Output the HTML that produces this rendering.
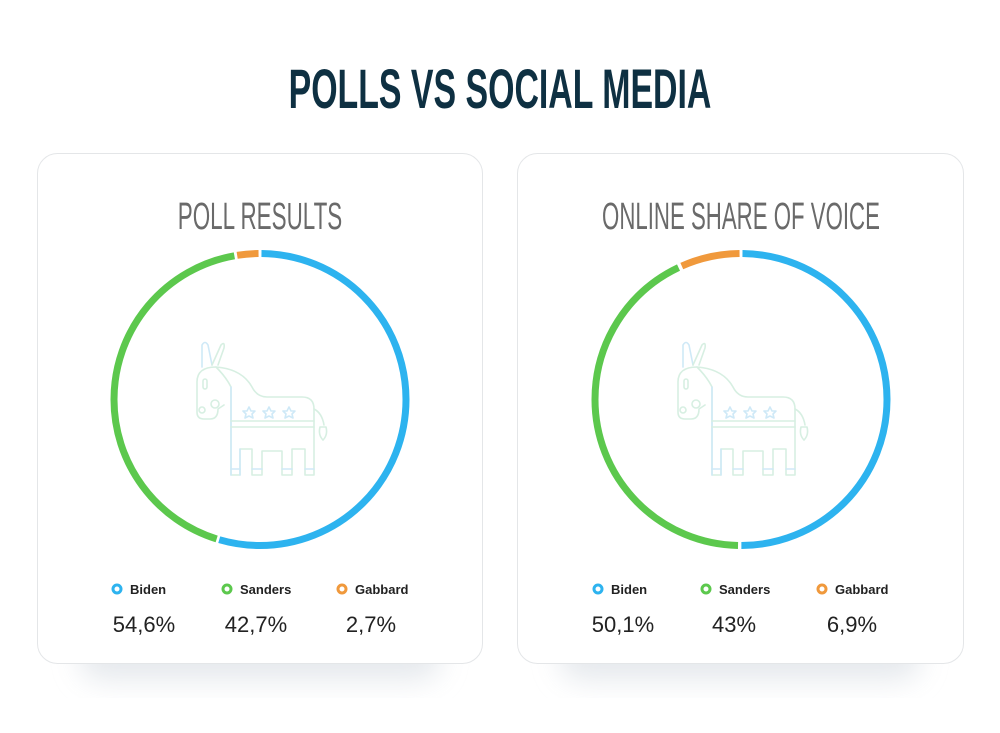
<!DOCTYPE html>
<html><head><style>
body{margin:0;background:#fff;}
svg text{font-family:"Liberation Sans",sans-serif;}
</style></head><body>
<svg width="1000" height="728" viewBox="0 0 1000 728" xmlns="http://www.w3.org/2000/svg">
<defs>
<filter id="sh" x="-20%" y="-20%" width="140%" height="150%"><feGaussianBlur stdDeviation="14"/></filter>
<g id="donkey" fill="none" stroke-width="1.6" stroke-linejoin="round" stroke-linecap="round">
  <path d="M-60,-30 L-60,-52 Q-57,-57 -54,-52 L-50,-32" stroke="#cfe9f7"/>
  <path d="M-50,-32 L-41,-52 Q-37,-56 -38,-49 L-44,-32" stroke="#d7efe2"/>
  <path d="M-46,-30 Q-20,-28 -10,-10 Q-5,0 5,0 L40,0 Q52,0 52,12 L52,78 L43,78 L43,52 L30,52 L30,78 L20,78 L20,54 L0,54 L0,78 L-10,78 L-10,52 L-22,52 L-22,78 L-31,78 L-31,-10 Q-36,-20 -46,-30 Z" stroke="#d7efe2"/>
  <path d="M-31,-10 L-31,78 M-22,78 L-22,52" stroke="#cfe9f7"/>
  <path d="M-46,-30 Q-65,-30 -65,-15 L-65,15 Q-65,22 -58,22 L-52,22 Q-44,22 -44,12 L-38,8" stroke="#d7efe2"/>
  <rect x="-59" y="-18" width="4" height="10" rx="2" stroke="#d7efe2"/>
  <circle cx="-47" cy="7" r="4" stroke="#d7efe2"/>
  <circle cx="-60" cy="13" r="3" stroke="#d7efe2"/>
  <path d="M-31,24 L52,24 M-31,30 L52,30" stroke="#d7efe2"/>
  <path d="M52,12 Q60,16 62,28 M58,30 Q56,38 61,43 Q66,38 64,30 Z" stroke="#d7efe2"/>
  <path d="M-13,10 l2,4 4,0 -3,3 1,4 -4,-2 -4,2 1,-4 -3,-3 4,0 Z M7,10 l2,4 4,0 -3,3 1,4 -4,-2 -4,2 1,-4 -3,-3 4,0 Z M27,10 l2,4 4,0 -3,3 1,4 -4,-2 -4,2 1,-4 -3,-3 4,0 Z" stroke="#cfe9f7"/>
  <path d="M-31,72 L-22,72 M-10,72 L0,72 M20,72 L30,72 M43,72 L52,72" stroke="#cfe9f7"/>
</g>
</defs>
<text x="500" y="108" text-anchor="middle" font-size="56" font-weight="bold" fill="#0e3042" transform="translate(500 0) scale(0.605 1) translate(-500 0)">POLLS VS SOCIAL MEDIA</text>

<rect x="80" y="620" width="360" height="60" rx="20" fill="#dfe3e8" filter="url(#sh)" opacity="0.8"/>
<rect x="560" y="620" width="360" height="60" rx="20" fill="#dfe3e8" filter="url(#sh)" opacity="0.8"/>
<rect x="37.5" y="153.5" width="445" height="510" rx="20" fill="#fff" stroke="#e4e6e8"/>
<rect x="517.5" y="153.5" width="446" height="510" rx="20" fill="#fff" stroke="#e4e6e8"/>

<text x="260" y="229" text-anchor="middle" font-size="38" fill="#6a6a6a" transform="translate(260 0) scale(0.59 1) translate(-260 0)">POLL RESULTS</text>
<g transform="translate(260 399.5) rotate(-90)" fill="none" stroke-width="7">
  <circle r="146" stroke="#2db3ef" stroke-dasharray="498.3 1000" stroke-dashoffset="-1.5"/>
  <circle r="146" stroke="#5cc84d" stroke-dasharray="388.7 1000" stroke-dashoffset="-502.5"/>
  <circle r="146" stroke="#f0993c" stroke-dasharray="21.5 1000" stroke-dashoffset="-894"/>
</g>
<use href="#donkey" transform="translate(262 397)"/>
<circle cx="117" cy="589" r="4" fill="none" stroke="#2db3ef" stroke-width="3"/>
<text x="130" y="594" font-size="13" font-weight="bold" fill="#222">Biden</text>
<circle cx="227" cy="589" r="4" fill="none" stroke="#5cc84d" stroke-width="3"/>
<text x="240" y="594" font-size="13" font-weight="bold" fill="#222">Sanders</text>
<circle cx="342" cy="589" r="4" fill="none" stroke="#f0993c" stroke-width="3"/>
<text x="355" y="594" font-size="13" font-weight="bold" fill="#222">Gabbard</text>
<text x="144" y="632" text-anchor="middle" font-size="22" fill="#222">54,6%</text>
<text x="256" y="632" text-anchor="middle" font-size="22" fill="#222">42,7%</text>
<text x="371" y="632" text-anchor="middle" font-size="22" fill="#222">2,7%</text>

<text x="741" y="229" text-anchor="middle" font-size="38" fill="#6a6a6a" transform="translate(741 0) scale(0.585 1) translate(-741 0)">ONLINE SHARE OF VOICE</text>
<g transform="translate(741 399.5) rotate(-90)" fill="none" stroke-width="7">
  <circle r="146" stroke="#2db3ef" stroke-dasharray="456.6 1000" stroke-dashoffset="-1.5"/>
  <circle r="146" stroke="#5cc84d" stroke-dasharray="390.9 1000" stroke-dashoffset="-461.5"/>
  <circle r="146" stroke="#f0993c" stroke-dasharray="59.5 1000" stroke-dashoffset="-856"/>
</g>
<use href="#donkey" transform="translate(743 397)"/>
<circle cx="598" cy="589" r="4" fill="none" stroke="#2db3ef" stroke-width="3"/>
<text x="611" y="594" font-size="13" font-weight="bold" fill="#222">Biden</text>
<circle cx="706" cy="589" r="4" fill="none" stroke="#5cc84d" stroke-width="3"/>
<text x="719" y="594" font-size="13" font-weight="bold" fill="#222">Sanders</text>
<circle cx="822" cy="589" r="4" fill="none" stroke="#f0993c" stroke-width="3"/>
<text x="835" y="594" font-size="13" font-weight="bold" fill="#222">Gabbard</text>
<text x="623" y="632" text-anchor="middle" font-size="22" fill="#222">50,1%</text>
<text x="734" y="632" text-anchor="middle" font-size="22" fill="#222">43%</text>
<text x="852" y="632" text-anchor="middle" font-size="22" fill="#222">6,9%</text>
</svg>
</body></html>
